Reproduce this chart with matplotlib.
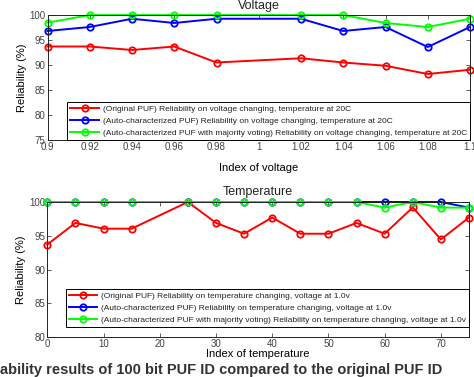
import numpy as np
import matplotlib.pyplot as plt

# Voltage sweep (temperature at 20C)
volt = [0.9, 0.92, 0.94, 0.96, 0.98, 1.02, 1.04, 1.06, 1.08, 1.1]
volt_orig = [93.7, 93.7, 93.0, 93.7, 90.5, 91.35, 90.5, 89.85, 88.2, 89.05]
volt_auto = [96.8, 97.6, 99.25, 98.4, 99.25, 99.25, 96.8, 97.6, 93.6, 97.6]
volt_major = [98.45, 100, 100, 100, 100, 100, 100, 98.4, 97.6, 99.25]

# Temperature sweep (voltage at 1.0v)
temp = [0, 5, 10, 15, 25, 30, 35, 40, 45, 50, 55, 60, 65, 70, 75]
temp_orig = [93.7, 96.9, 96.05, 96.05, 100, 96.9, 95.3, 97.7, 95.3, 95.3,
             96.9, 95.3, 99.2, 94.45, 97.7]
temp_auto = [100, 100, 100, 100, 100, 100, 100, 100, 100, 100,
             100, 100, 100, 100, 99.17]
temp_major = [100, 100, 100, 100, 100, 100, 100, 100, 100, 100,
              100, 99.17, 100, 99.17, 99.17]

volt_labels = [
    '(Original PUF) Reliability on voltage changing, temperature at 20C',
    '(Auto-characterized PUF) Reliability on voltage changing, temperature at 20C',
    '(Auto-characterized PUF with majority voting) Reliability on voltage changing, temperature at 20C',
]
temp_labels = [
    '(Original PUF) Reliability on temperature changing, voltage at 1.0v',
    '(Auto-characterized PUF) Reliability on temperature changing, voltage at 1.0v',
    '(Auto-characterized PUF with majority voting) Reliability on temperature changing, voltage at 1.0v',
]
colours = ['#ff0000', '#0000ff', '#00ff00']

plt.rcParams['font.family'] = 'Liberation Sans'
plt.rcParams['font.size'] = 7

fig = plt.figure(figsize=(4.74, 3.77), dpi=100, facecolor='white')
W, H = 474.0, 377.0
ax1 = fig.add_axes([47.5 / W, 1 - 140 / H, 422.5 / W, 125 / H])
ax2 = fig.add_axes([47.3 / W, 1 - 337 / H, 421.7 / W, 135 / H])


def style_axes(ax):
    ax.tick_params(direction='in', top=True, right=True, length=3, width=0.6,
                   labelsize=7, pad=1.5, colors='#444444')
    for s in ax.spines.values():
        s.set_linewidth(0.7)
        s.set_color('#222222')


def add_legend(ax, labels, anchor_y):
    leg = ax.legend(labels, loc='lower right', bbox_to_anchor=(1.0, anchor_y),
                    fontsize=6, frameon=True, fancybox=False, edgecolor='black',
                    borderpad=0.35, labelspacing=0.5, handlelength=3.4,
                    handletextpad=0.5, borderaxespad=0.0, framealpha=1)
    leg.get_frame().set_linewidth(0.7)
    for t in leg.get_texts():
        t.set_color('#222222')


for ys, c in zip([volt_orig, volt_auto, volt_major], colours):
    ax1.plot(volt, ys, '-o', color=c, mfc='none', mec=c, lw=1.4, ms=4.6,
             mew=1.3, clip_on=False)
ax1.set_xlim(0.9, 1.1)
ax1.set_ylim(75, 100)
ax1.set_xticks(np.arange(0.9, 1.1001, 0.02))
ax1.set_xticklabels(['0.9', '0.92', '0.94', '0.96', '0.98', '1', '1.02',
                     '1.04', '1.06', '1.08', '1.1'])
ax1.set_yticks([75, 80, 85, 90, 95, 100])
ax1.set_xlabel('Index of voltage', fontsize=8, labelpad=8)
ax1.set_ylabel('Reliability (%)', fontsize=8, labelpad=2)
style_axes(ax1)
add_legend(ax1, volt_labels, 0.0)
# title sits partly above the top edge in the original
fig.text((47.5 + 422.5 / 2) / W, 1 - 6 / H, 'Voltage', fontsize=9,
         ha='center', va='center', color='#222222')

for ys, c in zip([temp_orig, temp_auto, temp_major], colours):
    ax2.plot(temp, ys, '-o', color=c, mfc='none', mec=c, lw=1.4, ms=4.6,
             mew=1.3, clip_on=False)
ax2.set_xlim(0, 75)
ax2.set_ylim(80, 100)
ax2.set_xticks([0, 10, 20, 30, 40, 50, 60, 70])
ax2.set_yticks([80, 85, 90, 95, 100])
ax2.set_title('Temperature', fontsize=9, pad=5, color='#222222')
ax2.set_xlabel('Index of temperature', fontsize=8, labelpad=0)
ax2.set_ylabel('Reliability (%)', fontsize=8, labelpad=2)
style_axes(ax2)
add_legend(ax2, temp_labels, 10.0 / 135)

# caption of the paper below the figure
fig.text(0.0, 0.0, 'ability results of 100 bit PUF ID compared to the original PUF ID',
         fontsize=10.5, fontweight='bold', ha='left', va='bottom', color='#333333')

plt.savefig('out.png', dpi=100, facecolor='white')
